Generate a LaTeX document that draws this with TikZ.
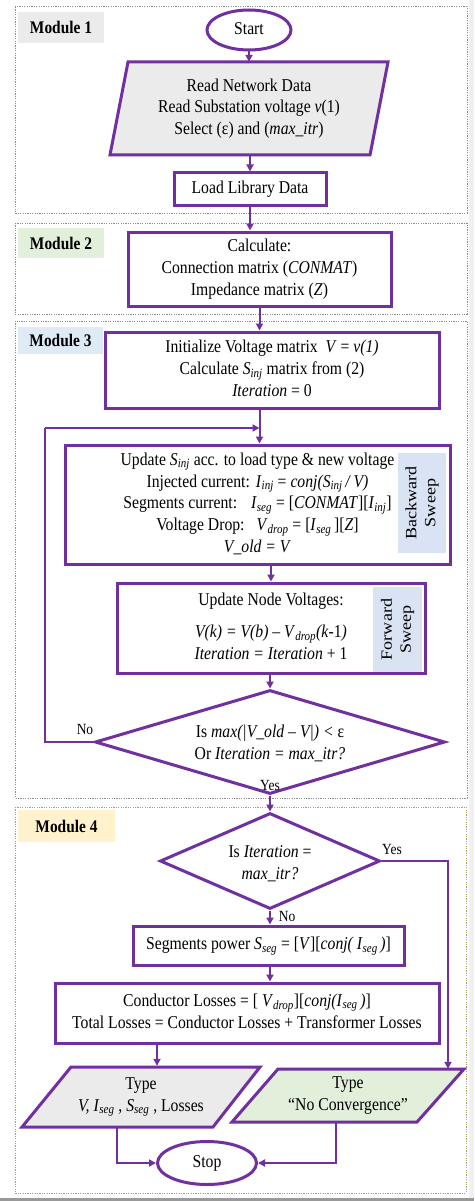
\documentclass[tikz,border=0pt]{standalone}
\usepackage{fontspec}
\setmainfont{Liberation Serif}
\usepackage{graphicx}
\usetikzlibrary{shapes.geometric,arrows.meta}
\definecolor{fc}{HTML}{7030A0}
\definecolor{grayfill}{HTML}{EBEBEB}
\definecolor{greenfill}{HTML}{E2EFDA}
\definecolor{bluefill}{HTML}{DEEBF7}
\definecolor{yellowfill}{HTML}{FFF2CC}
\definecolor{sweepfill}{HTML}{DAE3F3}
\definecolor{framegray}{HTML}{8C8C8C}
\definecolor{frameolive}{HTML}{B0A060}
\newcommand\mainf{\fontsize{15.7}{19}\selectfont}
\newcommand\lblf{\fontsize{13.5}{16}\selectfont}
\newcommand\st[1]{\scalebox{1}[1.15]{\begin{tabular}{@{}c@{}}#1\end{tabular}}}
\newcommand\sbs[1]{\textsubscript{\itshape #1}}
\tikzset{
  proc/.style={draw=fc, line width=3pt, fill=white, inner sep=0pt, font=\mainf},
  iotext/.style={inner sep=0pt, font=\mainf},
  iopoly/.style={draw=fc, line width=3pt},
  term/.style={ellipse, draw=fc, line width=3pt, fill=white, inner sep=0pt, font=\mainf},
  dec/.style={diamond, draw=fc, line width=3pt, fill=white, inner sep=0pt},
  arr/.style={draw=fc, line width=2pt, -{Triangle[length=7pt,width=7pt]}},
  conn/.style={draw=fc, line width=2pt},
  modframe/.style={line width=1pt, dash pattern=on 1.2pt off 1.2pt},
  modlabel/.style={inner sep=0pt, font=\fontsize{15.4}{18}\selectfont\bfseries},
  sweep/.style={fill=sweepfill, inner sep=0pt, font=\mainf, rotate=90},
  lbl/.style={inner sep=0pt, font=\lblf}
}
\begin{document}
\begin{tikzpicture}[x=1pt, y=-1pt]
\useasboundingbox (0,0) rectangle (474,1201);
\fill[white] (0,0) rectangle (474,1201);
\fill[black!6] (469,0) rectangle (474,1201);
\fill[black!40] (0,1198) rectangle (474,1201);

% module frames
\draw[modframe, draw=framegray] (15,7) rectangle (467,213);
\draw[modframe, draw=framegray] (15,223) rectangle (467,314);
\draw[modframe, draw=framegray] (15,321) rectangle (467,798);
\draw[modframe, draw=frameolive] (15,807) rectangle (466,1193);

\node[modlabel, fill=grayfill, minimum width=86pt, minimum height=31pt] (m1) at (61,27.5) {\scalebox{1}[1.15]{Module 1}};
\node[modlabel, fill=greenfill, minimum width=86pt, minimum height=30pt] (m2) at (61,243) {\scalebox{1}[1.15]{Module 2}};
\node[modlabel, fill=bluefill, minimum width=85pt, minimum height=27pt] (m3) at (60.5,340.5) {\scalebox{1}[1.15]{Module 3}};
\node[modlabel, fill=yellowfill, minimum width=97pt, minimum height=32pt] (m4) at (66.5,826) {\scalebox{1}[1.15]{Module 4}};

% Module 1
\node[term, minimum width=84pt, minimum height=40pt] (start) at (249,30) {\st{Start}};
\filldraw[iopoly, fill=grayfill] (128,62) -- (388,62) -- (370,155) -- (110,155) -- cycle;
\node[iotext, minimum width=278pt, minimum height=93pt] (rd) at (249,108.5)
  {\st{Read Network Data\\ Read Substation voltage \textit{v}(1)\\ Select (ε) and (\textit{max\_itr})}};
\node[proc, minimum width=152pt, minimum height=32pt] (lib) at (250,189) {\st{Load Library Data}};

% Module 2
\node[proc, minimum width=263pt, minimum height=74pt] (calc) at (259.5,269)
  {\st{Calculate:\\ Connection matrix (\textit{CONMAT})\\ Impedance matrix (\textit{Z})}};

% Module 3
\node[proc, minimum width=334pt, minimum height=76pt] (init) at (272,370)
  {\st{Initialize Voltage matrix \ \textit{V} = \textit{v(1)}\\ Calculate \textit{S}\sbs{inj} matrix from (2)\\ \textit{Iteration} = 0}};
\node[proc, minimum width=385pt, minimum height=119pt] (upd) at (257.5,504.5)
  {\st{Update \textit{S}\sbs{inj} acc. to load type \& new voltage\\
   Injected current:\hspace{6pt}\textit{I}\sbs{inj} = \textit{conj(S}\sbs{inj}\,\textit{/ V)}\\
   Segments current:\hspace{14pt}\textit{I}\sbs{seg} = [\textit{CONMAT}][\textit{I}\sbs{inj}]\\
   Voltage Drop:\hspace{12pt}\textit{V}\sbs{drop} = [\textit{I}\sbs{seg}\,][\textit{Z}]\\
   \textit{V\_old = V}}};
\node[sweep, minimum width=100pt, minimum height=48pt] (bw) at (422,503)
  {\scalebox{1.15}[1]{\begin{tabular}{@{}c@{}}Backward\\Sweep\end{tabular}}};
\node[proc, minimum width=308pt, minimum height=90pt] (fwd) at (271,628)
  {\st{Update Node Voltages:\\[9pt]
   \textit{V(k) = V(b) – V}\sbs{drop}\textit{(k}-1\textit{)}\\
   \textit{Iteration = Iteration} + 1}};
\node[sweep, minimum width=85pt, minimum height=49pt] (fw) at (397.5,629.5)
  {\scalebox{1.15}[1]{\begin{tabular}{@{}c@{}}Forward\\Sweep\end{tabular}}};
\node[dec, minimum width=350pt, minimum height=104pt] (d1) at (270,742) {};
\node[iotext] (d1t) at (270,744)
  {\st{Is \textit{max(|V\_old – V|) <} ε\\ Or \textit{Iteration = max\_itr?}}};
\node[lbl] (no1) at (85,729) {\scalebox{1}[1.15]{No}};
\node[lbl] (yes1) at (270,785) {\scalebox{1}[1.15]{Yes}};

% Module 4
\node[dec, minimum width=220pt, minimum height=96pt] (d2) at (270,861) {};
\node[iotext] (d2t) at (270,864)
  {\st{Is \textit{Iteration} =\\ \textit{max\_itr?}}};
\node[lbl] (yes2) at (392,849) {\scalebox{1}[1.15]{Yes}};
\node[lbl] (no2) at (287,916) {\scalebox{1}[1.15]{No}};
\node[proc, minimum width=271pt, minimum height=39pt] (seg) at (268.5,945.5)
  {\st{Segments power \textit{S}\sbs{seg} = [\textit{V}][\textit{conj( I}\sbs{seg}\,\textit{)}]}};
\node[proc, minimum width=384pt, minimum height=60pt] (loss) at (247,1013)
  {\st{Conductor Losses = [ \textit{V}\sbs{drop}][\textit{conj(I}\sbs{seg}\,\textit{)}]\\ Total Losses = Conductor Losses + Transformer Losses}};
\filldraw[iopoly, fill=grayfill] (71,1067) -- (260,1067) -- (213,1127) -- (22,1127) -- cycle;
\node[iotext, minimum width=238pt, minimum height=60pt] (t1) at (141,1096)
  {\st{Type\\ \textit{V, I}\sbs{seg} , \textit{S}\sbs{seg} , Losses}};
\filldraw[iopoly, fill=greenfill] (278,1069) -- (464,1069) -- (417,1122) -- (232,1122) -- cycle;
\node[iotext, minimum width=232pt, minimum height=53pt] (t2) at (348,1095.5)
  {\st{Type\\ “No Convergence”}};
\node[term, minimum width=99pt, minimum height=43pt] (stop) at (207,1163) {\st{Stop}};

% connectors
\draw[arr] (start) -- (start |- rd.north);
\draw[arr] (rd.south -| lib.north) -- (lib.north);
\draw[arr] (lib.south) -- (lib.south |- calc.north);
\draw[arr] (calc.south) -- (calc.south |- init.north);
\draw[arr] (init.south -| calc.south) -- (upd.north -| calc.south);
\coordinate (lp) at (45,428);
\draw[conn] (d1.west) -| (lp);
\draw[arr] (lp) -- (lp -| calc.south);
\draw[arr] (upd.south -| fwd.north) -- (fwd.north);
\draw[arr] (fwd.south -| d1.north) -- (d1.north);
\draw[arr] (d1.south) -- (d2.north);
\draw[arr] (d2.south) -- (d2.south |- seg.north);
\draw[arr] (seg.south -| d2.south) -- (d2.south |- loss.north);
\coordinate (yx) at (448,861);
\draw[arr] (d2.east) -- (yx) -- (yx |- t2.north);
\coordinate (t1in) at (157,0);
\draw[arr] (loss.south -| t1in) -- (t1in |- t1.north);
\coordinate (sL) at (117,0);
\draw[arr] (t1.south -| sL) |- (stop.west);
\coordinate (sR) at (336,0);
\draw[arr] (t2.south -| sR) |- (stop.east);
\end{tikzpicture}
\end{document}
